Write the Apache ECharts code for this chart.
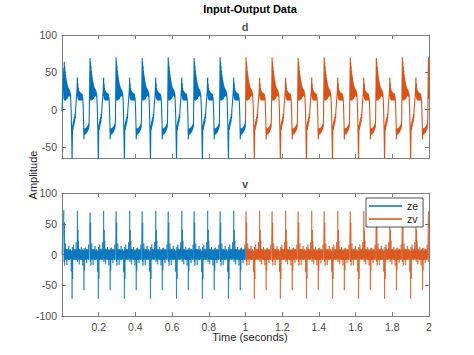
<!DOCTYPE html>
<html><head><meta charset="utf-8">
<script src="https://cdn.jsdelivr.net/npm/echarts@6/dist/echarts.min.js"></script>
<style>html,body{margin:0;padding:0;background:#fff}#c{width:474px;height:355px}</style>
</head><body><div id="c"></div><script>
// big-peak times of each cycle (s)
const cycleStarts = [0.010, 0.153, 0.295, 0.437, 0.579, 0.720, 0.862, 1.003, 1.145, 1.287, 1.429, 1.571, 1.713, 1.855, 1.997];
// per-cycle big peak heights
const dBig = [56, 69, 70, 69, 70, 69, 70, 70, 70, 69, 70, 70, 69, 70, 70];
const vBig = [72, 68, 70, 70, 70, 70, 70, 70, 70, 70, 70, 70, 70, 70, 70];
// one cycle of "d": [offset from big peak (s), value]
const dCycle = [
 [0.0000,70],[0.0012,14],[0.0024,64],[0.0036,12],[0.0048,58],[0.0060,13],[0.0072,52],[0.0084,12],[0.0096,47],[0.0108,14],
 [0.0120,43],[0.0132,13],[0.0144,39],[0.0156,15],[0.0168,36],[0.0180,14],[0.0192,33],[0.0204,16],[0.0216,31],[0.0228,17],
 [0.0240,29],[0.0252,18],[0.0264,28],[0.0276,18],[0.0288,27],[0.0300,19],[0.0312,26],[0.0324,18],[0.0336,24],[0.0348,17],
 [0.0360,21],[0.0375,13],[0.0395,2],[0.0420,-25],[0.0450,-70],[0.0470,-30],[0.0485,-20],[0.0500,-27],[0.0515,-16],[0.0530,-23],
 [0.0545,-13],[0.0560,-20],[0.0575,-10],[0.0590,-17],[0.0605,-6],[0.0620,-12],[0.0640,0],[0.0665,8],[0.0690,16],[0.0715,25],
 [0.0740,43],[0.0752,18],[0.0764,35],[0.0776,14],[0.0788,29],[0.0800,13],[0.0812,26],[0.0824,12],[0.0836,25],[0.0848,13],
 [0.0860,24],[0.0872,12],[0.0884,23],[0.0896,13],[0.0908,23],[0.0920,12],[0.0932,22],[0.0944,13],[0.0956,22],[0.0968,12],
 [0.0980,21],[0.0992,13],[0.1004,20],[0.1016,12],[0.1030,16],[0.1055,4],[0.1080,-18],[0.1095,-40],[0.1110,-26],[0.1125,-34],
 [0.1140,-25],[0.1155,-33],[0.1170,-26],[0.1185,-33],[0.1200,-25],[0.1215,-32],[0.1230,-24],[0.1245,-31],[0.1260,-23],[0.1275,-30],
 [0.1290,-22],[0.1305,-28],[0.1320,-21],[0.1335,-27],[0.1350,-19],[0.1365,-24],[0.1380,-14]
];
// one cycle of "v": [offset from big peak (s), value]
const vCycle = [
 [0.0000,70],[0.0015,-12],[0.0030,52],[0.0045,-18],[0.0060,9],[0.0075,-8],[0.0090,18],[0.0105,-9],[0.0120,7],[0.0135,-8],
 [0.0150,9],[0.0165,-17],[0.0180,8],[0.0195,-7],[0.0210,9],[0.0225,-8],[0.0240,7],[0.0255,-9],[0.0270,14],[0.0285,-8],
 [0.0300,7],[0.0315,-9],[0.0330,8],[0.0345,-7],[0.0360,9],[0.0375,-8],[0.0390,6],[0.0405,-28],[0.0420,6],[0.0435,-12],
 [0.0450,-72],[0.0465,12],[0.0480,-40],[0.0495,8],[0.0510,-9],[0.0525,16],[0.0540,-8],[0.0555,9],[0.0570,-7],[0.0585,8],
 [0.0600,-9],[0.0615,7],[0.0630,-8],[0.0645,9],[0.0660,-7],[0.0675,20],[0.0690,-9],[0.0705,8],[0.0720,-6],[0.0740,71],
 [0.0755,-12],[0.0770,40],[0.0785,-8],[0.0800,22],[0.0815,-9],[0.0830,8],[0.0845,-16],[0.0860,9],[0.0875,-7],[0.0890,8],
 [0.0905,-8],[0.0920,7],[0.0935,-9],[0.0950,12],[0.0965,-8],[0.0980,7],[0.0995,-9],[0.1010,8],[0.1025,-18],[0.1040,8],
 [0.1055,-9],[0.1070,7],[0.1085,-6],[0.1095,-58],[0.1110,10],[0.1125,-26],[0.1140,8],[0.1155,-9],[0.1170,11],[0.1185,-8],
 [0.1200,7],[0.1215,-9],[0.1230,8],[0.1245,-14],[0.1260,9],[0.1275,-7],[0.1290,8],[0.1305,-8],[0.1320,7],[0.1335,-9],
 [0.1350,16],[0.1365,-8],[0.1380,9]
];
const dLead = -2, vLead = 0;
// tick labels
const xTicks = [0.2, 0.4, 0.6, 0.8, 1, 1.2, 1.4, 1.6, 1.8, 2];
const dTicks = [-50, 0, 50, 100];
const vTicks = [-100, -50, 0, 50, 100];
const legendNames = ['ze', 'zv'];

function build(cycle, peaks, lead) {
  const pts = [[0, lead]];
  cycleStarts.forEach((s, k) => {
    cycle.forEach((p, i) => {
      const t = Math.round((s + p[0]) * 10000) / 10000;
      if (t > 0 && t <= 2) pts.push([t, i === 0 ? peaks[k] : p[1]]);
    });
  });
  return pts;
}
function split(pts) {
  const a = pts.filter(p => p[0] <= 1);
  const b = pts.filter(p => p[0] > 1);
  b.unshift(a[a.length - 1]);
  return [a, b];
}
const [dA, dB] = split(build(dCycle, dBig, dLead));
const [vA, vB] = split(build(vCycle, vBig, vLead));

const BLUE = '#0072BD', ORANGE = '#D95319';
const axisCol = '#7f7f7f', labCol = '#4d4d4d';
const FONT = '"Liberation Sans", Arial, Helvetica, sans-serif';

function xAx(grid, pos, labels) {
  return {type: 'value', gridIndex: grid, position: pos, min: 0, max: 2,
    axisLine: {show: true, onZero: false, lineStyle: {color: axisCol, width: 1}},
    axisTick: {show: true, inside: true, length: 4, customValues: xTicks, lineStyle: {color: axisCol}},
    axisLabel: {show: labels, customValues: xTicks, color: labCol, fontSize: 10.5, fontFamily: FONT, margin: 5, formatter: v => String(v)},
    splitLine: {show: false}};
}
function yAx(grid, pos, labels, min, max, ticks) {
  return {type: 'value', gridIndex: grid, position: pos, min: min, max: max,
    axisLine: {show: true, onZero: false, lineStyle: {color: axisCol, width: 1}},
    axisTick: {show: true, inside: true, length: 4, customValues: ticks, lineStyle: {color: axisCol}},
    axisLabel: {show: labels, customValues: ticks, color: labCol, fontSize: 10.5, fontFamily: FONT, margin: 5, formatter: v => String(v)},
    splitLine: {show: false}};
}
function ser(name, data, xi, yi, color, w) {
  return {name: name, type: 'line', data: data, xAxisIndex: xi, yAxisIndex: yi,
    showSymbol: false, symbol: 'none', animation: false, progressive: 0, clip: true,
    lineStyle: {color: color, width: w}, itemStyle: {color: color}};
}

const chart = echarts.init(document.getElementById('c'), null, {renderer: 'svg'});
chart.setOption({
  backgroundColor: '#fff',
  animation: false,
  title: {text: 'Input-Output Data', left: 250, top: 3, padding: 0, textAlign: 'center',
    textStyle: {fontSize: 11, fontWeight: 'bold', color: '#000', fontFamily: FONT}},
  grid: [{left: 62, top: 35, width: 367, height: 123}, {left: 62, top: 193, width: 367, height: 123}],
  xAxis: [xAx(0, 'bottom', false), xAx(0, 'top', false), xAx(1, 'bottom', true), xAx(1, 'top', false)],
  yAxis: [yAx(0, 'left', true, -65, 100, dTicks), yAx(0, 'right', false, -65, 100, dTicks),
          yAx(1, 'left', true, -100, 100, vTicks), yAx(1, 'right', false, -100, 100, vTicks)],
  legend: {data: legendNames, orient: 'vertical', left: 366, top: 198, icon: 'rect',
    itemWidth: 33, itemHeight: 1.5, itemGap: 1, padding: [2, 5, 2, 3],
    borderColor: '#262626', borderWidth: 0.8, backgroundColor: '#fff',
    textStyle: {fontSize: 10.5, color: '#262626', fontFamily: FONT, lineHeight: 12}},
  graphic: [
    {type: 'text', x: 245, y: 27, style: {text: 'd', font: 'bold 11px ' + FONT, fill: '#555', textAlign: 'center', textVerticalAlign: 'middle'}},
    {type: 'text', x: 245, y: 184, style: {text: 'v', font: 'bold 11px ' + FONT, fill: '#555', textAlign: 'center', textVerticalAlign: 'middle'}},
    {type: 'text', x: 33, y: 175, rotation: Math.PI / 2, style: {text: 'Amplitude', font: '11px ' + FONT, fill: '#262626', textAlign: 'center', textVerticalAlign: 'middle'}},
    {type: 'text', x: 250, y: 337, style: {text: 'Time (seconds)', font: '11px ' + FONT, fill: '#262626', textAlign: 'center', textVerticalAlign: 'middle'}}
  ],
  series: [
    ser('ze', dA, 0, 0, BLUE, 1.1), ser('zv', dB, 0, 0, ORANGE, 1.1),
    ser('ze', vA, 2, 2, BLUE, 0.65), ser('zv', vB, 2, 2, ORANGE, 0.65)
  ]
});
</script></body></html>
